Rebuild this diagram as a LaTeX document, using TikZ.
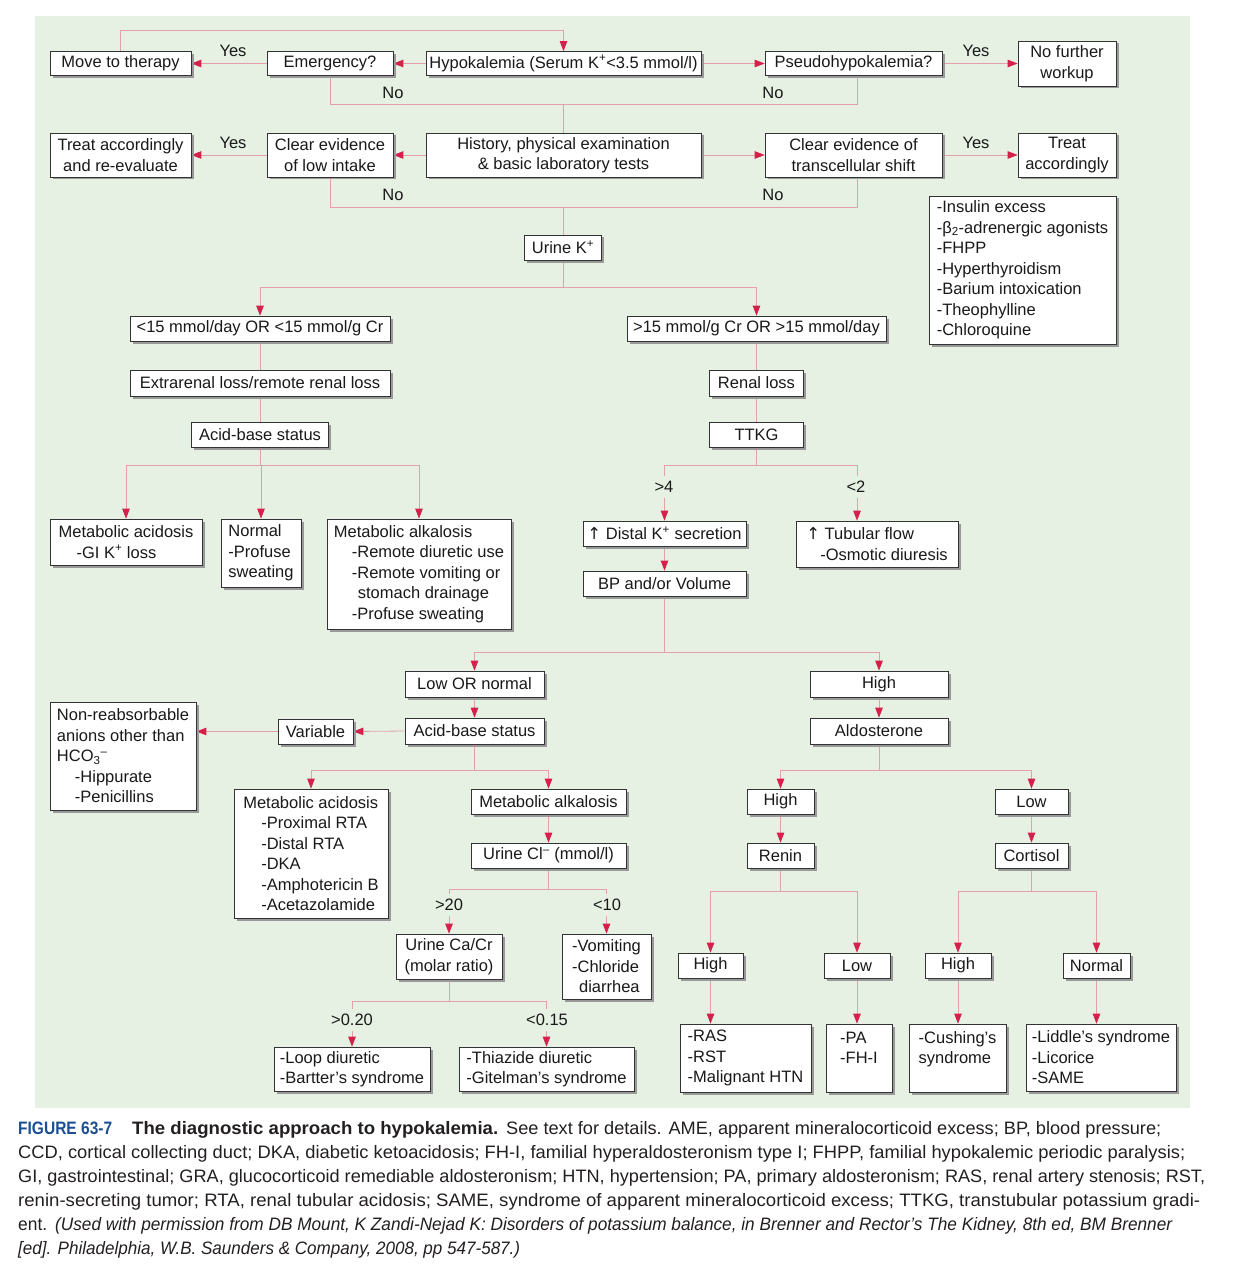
\documentclass[tikz,border=0pt]{standalone}
\usepackage{fontspec}
\setmainfont{Liberation Sans}
\newfontfamily\arrowfont{DejaVu Sans}
\usetikzlibrary{arrows.meta,shadows,backgrounds}
\definecolor{panel}{HTML}{E6F1E3}
\definecolor{linepink}{HTML}{E3A0A8}
\definecolor{tipred}{HTML}{D6204C}
\definecolor{figblue}{HTML}{1B4F93}
\definecolor{captxt}{HTML}{231F20}
\newcommand{\myind}{\hspace*{18pt}}
\newcommand{\uparr}{{\arrowfont\char"2191}}
\newcommand{\capline}[2]{\resizebox{#1}{\height}{#2}}
\begin{document}
\begin{tikzpicture}[x=1pt,y=-1pt,
  box/.style={draw=black!80, line width=0.7pt, fill=white, inner sep=0pt,
     drop shadow={shadow xshift=2.5pt,shadow yshift=-2.5pt,fill=black!40,opacity=1},
     font=\fontsize{16.5}{20.5}\selectfont, text=black!90, align=center},
  lft/.style={align=left},
  sz/.style 2 args={minimum width=#1pt,minimum height=#2pt},
  conn/.style={draw=linepink, line width=0.8pt},
  arr/.style={conn, -{Triangle[length=10pt,width=7.5pt,color=tipred]}},
  lbl/.style={font=\fontsize{16.5}{20.5}\selectfont, inner sep=0pt, text=black!90},
  gaplbl/.style={lbl, fill=panel, inner xsep=2pt, inner ysep=5pt},
  capt/.style={font=\fontsize{18}{22}\selectfont, text=captxt, inner sep=0pt, anchor=base west},
]
\useasboundingbox (0,0) rectangle (1238,1265);

% ---- row 1
\node[box,sz={141}{24}] (mt) at (120.5,63.5) {Move to therapy};
\node[box,sz={126}{24}] (em) at (330,63.5) {Emergency?};
\node[box,sz={275}{24}] (hy) at (563.5,63.5) {Hypokalemia (Serum K\textsuperscript{+}<3.5 mmol/l)};
\node[box,sz={177}{24}] (ps) at (853.5,63.5) {Pseudohypokalemia?};
\node[box,sz={98}{45}] (nf) at (1067,63.5) {No further\\workup};
% ---- row 2
\node[box,sz={141}{44}] (ta) at (120.5,155) {Treat accordingly\\and re-evaluate};
\node[box,sz={126}{44}] (cl) at (330,155) {Clear evidence\\of low intake};
\node[box,sz={275}{44}] (hi) at (563.5,155) {History, physical examination\\\& basic laboratory tests};
\node[box,sz={177}{44}] (ct) at (853.5,155) {Clear evidence of\\transcellular shift};
\node[box,sz={98}{44}] (tr) at (1067,155) {Treat\\accordingly};
\node[box,lft,sz={187}{148}] (il) at (1022.5,270) {-Insulin excess\\-β\textsubscript{2}-adrenergic agonists\\-FHPP\\-Hyperthyroidism\\-Barium intoxication\\-Theophylline\\-Chloroquine};
% ---- urine K
\node[box,sz={77}{25}] (uk) at (563,247.5) {Urine K\textsuperscript{+}};
\node[box,sz={260}{25}] (lo) at (260,328.5) {<15 mmol/day OR <15 mmol/g Cr};
\node[box,sz={259}{25}] (gt) at (756.5,328.5) {>15 mmol/g Cr OR >15 mmol/day};
\node[box,sz={260}{26}] (ex) at (260,383) {Extrarenal loss/remote renal loss};
\node[box,sz={94}{26}] (rl) at (756.5,383) {Renal loss};
\node[box,sz={137}{25}] (ab1) at (260,434.5) {Acid-base status};
\node[box,sz={94}{25}] (tt) at (756.5,434.5) {TTKG};
% ---- left branch
\node[box,lft,sz={152}{46}] (ma1) at (126,542) {Metabolic acidosis\\\myind-GI K\textsuperscript{+} loss};
\node[box,lft,sz={80}{68}] (no1) at (261,553) {Normal\\-Profuse\\sweating};
\node[box,lft,sz={184}{110}] (mk1) at (419,574) {Metabolic alkalosis\\\myind-Remote diuretic use\\\myind-Remote vomiting or\\\hspace*{24pt}stomach drainage\\\myind-Profuse sweating};
% ---- TTKG branch
\node[box,sz={163}{25}] (dk) at (664.5,533.5) {\uparr\ Distal K\textsuperscript{+} secretion};
\node[box,lft,sz={162}{46}] (tf) at (877,544) {\uparr\ Tubular flow\\\hspace*{14pt}-Osmotic diuresis};
\node[box,sz={163}{25}] (bp) at (664.5,583.5) {BP and/or Volume};
\node[box,sz={139}{26}] (ln) at (474.5,684) {Low OR normal};
\node[box,sz={138}{26}] (hg) at (879,684) {High};
\node[box,sz={139}{26}] (ab2) at (474.5,731) {Acid-base status};
\node[box,sz={138}{26}] (al) at (879,731) {Aldosterone};
\node[box,sz={75}{25}] (va) at (315.5,731.5) {Variable};
\node[box,lft,sz={146}{108}] (nr) at (123,756) {Non-reabsorbable\\anions other than\\HCO\textsubscript{3}\textsuperscript{--}\\\myind-Hippurate\\\myind-Penicillins};
\node[box,lft,sz={154}{129}] (ma2) at (311,853.5) {Metabolic acidosis\\\myind-Proximal RTA\\\myind-Distal RTA\\\myind-DKA\\\myind-Amphotericin B\\\myind-Acetazolamide};
\node[box,sz={155}{25}] (mk2) at (548.5,801.5) {Metabolic alkalosis};
\node[box,sz={155}{25}] (uc) at (548.5,855.5) {Urine Cl\textsuperscript{--} (mmol/l)};
\node[box,sz={106}{45}] (ca) at (449,956.5) {Urine Ca/Cr\\(molar ratio)};
\node[box,lft,sz={89}{65}] (vo) at (606.5,966.5) {-Vomiting\\-Chloride\\\hspace*{7pt}diarrhea};
\node[box,lft,sz={156}{44}] (lp) at (352,1069) {-Loop diuretic\\-Bartter's syndrome};
\node[box,lft,sz={175}{44}] (th) at (546.5,1069) {-Thiazide diuretic\\-Gitelman's syndrome};
% ---- aldosterone branch
\node[box,sz={67}{25}] (h2) at (780.5,801.5) {High};
\node[box,sz={73}{25}] (lw) at (1031.5,801.5) {Low};
\node[box,sz={67}{25}] (rn) at (780.5,855.5) {Renin};
\node[box,sz={73}{25}] (co) at (1031.5,855.5) {Cortisol};
\node[box,sz={65}{25}] (h3) at (710.5,965.5) {High};
\node[box,sz={66}{25}] (l3) at (857,965.5) {Low};
\node[box,sz={66}{25}] (h4) at (958,965.5) {High};
\node[box,sz={67}{25}] (nm) at (1096.5,965.5) {Normal};
\node[box,lft,sz={131}{68}] (ra) at (745.5,1058) {-RAS\\-RST\\-Malignant HTN};
\node[box,lft,sz={66}{68}] (pa) at (859,1058) {-PA\\-FH-I\\\mbox{}};
\node[box,lft,sz={97}{68}] (cu) at (957.5,1058) {-Cushing's\\syndrome\\\mbox{}};
\node[box,lft,sz={150}{67}] (li) at (1101,1057.5) {-Liddle's syndrome\\-Licorice\\-SAME};

\begin{scope}[on background layer]
\fill[panel] (35,16) rectangle (1190,1108);
% row 1
\draw[arr] (hy.west) -- (em.east);
\draw[arr] (em.west) -- (mt.east);
\draw[arr] (hy.east) -- (ps.west);
\draw[arr] (ps.east) -- (nf.west);
\draw[arr] (mt.north) -- ++(0,-21) -| (hy.north);
\draw[conn] (em.south) -- ++(0,29) -| (hi.north);
\draw[conn] ([xshift=4pt]ps.south) -- ++(0,29) -| (hi.north);
% row 2
\draw[arr] (hi.west) -- (cl.east);
\draw[arr] (cl.west) -- (ta.east);
\draw[arr] (hi.east) -- (ct.west);
\draw[arr] (ct.east) -- (tr.west);
\draw[conn] (cl.south) -- ++(0,30) -| (uk.north);
\draw[conn] ([xshift=4pt]ct.south) -- ++(0,30) -| (uk.north);
% urine K
\draw[arr] (uk.south) -- ++(0,27) -| (lo.north);
\draw[arr] (uk.south) -- ++(0,27) -| (gt.north);
\draw[conn] (lo.south) -- (ex.north);
\draw[conn] (ex.south) -- (ab1.north);
\draw[conn] (gt.south) -- (rl.north);
\draw[conn] (rl.south) -- (tt.north);
\draw[arr] (ab1.south) -- ++(0,18) -| (ma1.north);
\draw[arr] (ab1.south) -- ++(0,18) -| (no1.north);
\draw[arr] (ab1.south) -- ++(0,18) -| (mk1.north);
\draw[arr] (tt.south) -- ++(0,18) -| (dk.north);
\draw[arr] (tt.south) -- ++(0,18) -| ([xshift=-20pt]tf.north);
\draw[arr] (dk.south) -- (bp.north);
\draw[arr] (bp.south) -- ++(0,56) -| (ln.north);
\draw[arr] (bp.south) -- ++(0,56) -| (hg.north);
\draw[arr] (ln.south) -- (ab2.north);
\draw[arr] (hg.south) -- (al.north);
\draw[arr] (ab2.west) -- (va.east);
\draw[arr] (va.west) -- (va.west -| nr.east);
\draw[arr] (ab2.south) -- ++(0,26) -| (ma2.north);
\draw[arr] (ab2.south) -- ++(0,26) -| (mk2.north);
\draw[arr] (mk2.south) -- (uc.north);
\draw[arr] (uc.south) -- ++(0,21) -| (ca.north);
\draw[arr] (uc.south) -- ++(0,21) -| (vo.north);
\draw[arr] (ca.south) -- ++(0,22) -| (lp.north);
\draw[arr] (ca.south) -- ++(0,22) -| (th.north);
\draw[arr] (al.south) -- ++(0,26) -| (h2.north);
\draw[arr] (al.south) -- ++(0,26) -| (lw.north);
\draw[arr] (h2.south) -- (rn.north);
\draw[arr] (lw.south) -- (co.north);
\draw[arr] (rn.south) -- ++(0,23) -| (h3.north);
\draw[arr] (rn.south) -- ++(0,23) -| (l3.north);
\draw[arr] (co.south) -- ++(0,23) -| (h4.north);
\draw[arr] (co.south) -- ++(0,23) -| (nm.north);
\draw[arr] (h3.south) -- (h3.south |- ra.north);
\draw[arr] (l3.south) -- (l3.south |- pa.north);
\draw[arr] (h4.south) -- (h4.south |- cu.north);
\draw[arr] (nm.south) -- (nm.south |- li.north);
\end{scope}

% labels
\node[lbl] (y1) at (233,51) {Yes};
\node[lbl] (y2) at (976,51) {Yes};
\node[lbl] (n1) at (393,93) {No};
\node[lbl] (n2) at (773,93) {No};
\node[lbl] (y3) at (233,143) {Yes};
\node[lbl] (y4) at (976,143) {Yes};
\node[lbl] (n3) at (393,195) {No};
\node[lbl] (n4) at (773,195) {No};
\node[gaplbl] (g1) at (664,487) {>4};
\node[gaplbl] (g2) at (856,487) {<2};
\node[gaplbl] (g3) at (449,905) {>20};
\node[gaplbl] (g4) at (607,905) {<10};
\node[gaplbl] (g5) at (352,1020) {>0.20};
\node[gaplbl] (g6) at (547,1020) {<0.15};

% caption
\node[capt] (c1) at (18,1134) {\capline{94pt}{\color{figblue}\bfseries FIGURE 63-7}\hspace{20pt}\capline{366pt}{\bfseries The diagnostic approach to hypokalemia.}\hspace{8pt}\capline{655pt}{See text for details. AME, apparent mineralocorticoid excess; BP, blood pressure;}};
\node[capt] (c2) at (18,1158) {\capline{1167pt}{CCD, cortical collecting duct; DKA, diabetic ketoacidosis; FH-I, familial hyperaldosteronism type I; FHPP, familial hypokalemic periodic paralysis;}};
\node[capt] (c3) at (18,1182) {\capline{1187pt}{GI, gastrointestinal; GRA, glucocorticoid remediable aldosteronism; HTN, hypertension; PA, primary aldosteronism; RAS, renal artery stenosis; RST,}};
\node[capt] (c4) at (18,1206) {\capline{1182pt}{renin-secreting tumor; RTA, renal tubular acidosis; SAME, syndrome of apparent mineralocorticoid excess; TTKG, transtubular potassium gradi-}};
\node[capt] (c5) at (18,1230) {\capline{29pt}{ent.}\hspace{8pt}\capline{1117pt}{\itshape (Used with permission from DB Mount, K Zandi-Nejad K: Disorders of potassium balance, in Brenner and Rector's The Kidney, 8th ed, BM Brenner}};
\node[capt] (c6) at (18,1254) {\capline{502pt}{\itshape [ed]. Philadelphia, W.B. Saunders \& Company, 2008, pp 547-587.)}};
\end{tikzpicture}
\end{document}
